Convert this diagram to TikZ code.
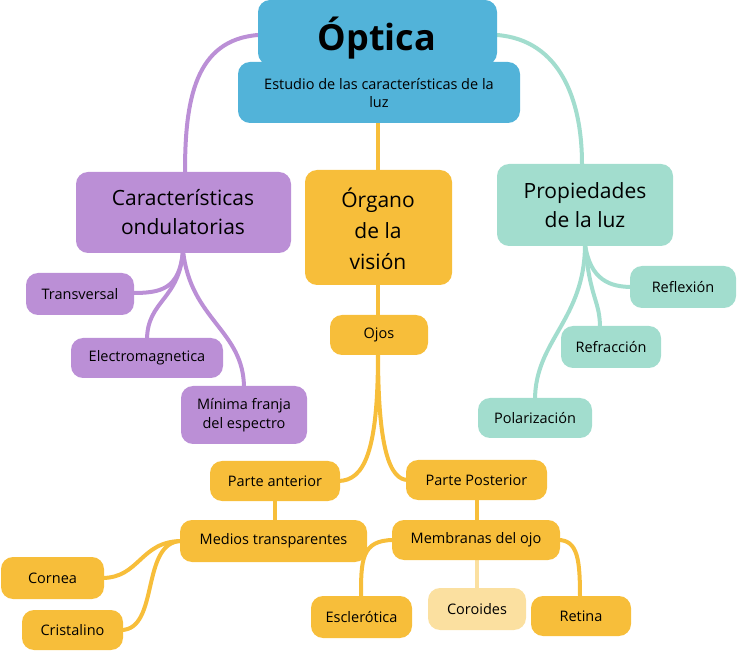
\documentclass[tikz,border=0pt]{standalone}
\usepackage{fontspec}
\setmainfont{Open Sans}
\definecolor{cblue}{HTML}{52B3D9}
\definecolor{cpur}{HTML}{BB8FD6}
\definecolor{cora}{HTML}{F7BE3A}
\definecolor{cmint}{HTML}{A2DDCE}
\definecolor{clight}{HTML}{FBE0A0}
\begin{document}
\begin{tikzpicture}[x=1pt,y=-1pt,
  box/.style={rounded corners=12pt,inner sep=0pt,align=center,text=black},
  lnk/.style={line width=4pt,line cap=round}]
\useasboundingbox (0,0) rectangle (737,652);
\newcommand\bx[7]{\node[box,fill=#2,minimum width=#5-#3,minimum height=#6-#4,font=#7] (#1) at ({(#3+#5)/2},{(#4+#6)/2}) {};}
% connectors first
\coordinate (a1) at (258,35); \coordinate (a2) at (497,35);
\draw[lnk,cpur] (a1) .. controls (195,40) and (185,100) .. (185,172);
\draw[lnk,cmint] (a2) .. controls (560,40) and (582,100) .. (582,164);
\draw[lnk,cora] (378,120) -- (378,172);
\draw[lnk,cpur] (183,250) .. controls (180,290) and (160,293) .. (132,293);
\draw[lnk,cpur] (183,250) .. controls (180,300) and (147,300) .. (147,340);
\draw[lnk,cpur] (183,250) .. controls (190,320) and (244,330) .. (244,388);
\draw[lnk,cora] (378,283) -- (378,317);
\draw[lnk,cmint] (585,244) .. controls (590,280) and (610,287) .. (632,287);
\draw[lnk,cmint] (585,244) .. controls (590,300) and (600,300) .. (600,328);
\draw[lnk,cmint] (585,244) .. controls (585,320) and (535,340) .. (535,400);
\draw[lnk,cora] (378,353) .. controls (378,450) and (365,481) .. (338,481);
\draw[lnk,cora] (378,353) .. controls (378,450) and (390,480) .. (408,480);
\draw[lnk,cora] (275,499) -- (275,522);
\draw[lnk,cora] (477,498) -- (477,522);
\draw[lnk,cora] (182,541) .. controls (140,541) and (140,578) .. (102,578);
\draw[lnk,cora] (182,541) .. controls (140,541) and (160,630) .. (121,630);
\draw[lnk,cora] (394,540) .. controls (361,540) and (361,560) .. (361,598);
\draw[lnk,clight] (477,558) -- (477,590);
\draw[lnk,cora] (558,540) .. controls (578,540) and (580,560) .. (580,598);
% nodes
\bx{sub}{cblue}{238}{62}{520}{123}{\fontsize{14}{17}\selectfont}
\node[align=center,font=\fontsize{14.5}{18}\selectfont] at (379,93) {Estudio de las características de la\\luz};
\bx{opt}{cblue}{258}{0}{497}{65}{}
\node[font=\fontsize{36}{40}\selectfont\bfseries] at (377,38) {Óptica};
\bx{car}{cpur}{76}{172}{291}{253}{}
\node[align=center,font=\fontsize{21}{29}\selectfont] at (183,212) {Características\\ondulatorias};
\bx{org}{cora}{305}{170}{452}{285}{}
\node[align=center,font=\fontsize{21}{31}\selectfont] at (378,229) {Órgano\\de la\\visión};
\bx{pro}{cmint}{497}{164}{673}{246}{}
\node[align=center,font=\fontsize{21}{29}\selectfont] at (585,205) {Propiedades\\de la luz};
\tikzset{sm/.style={font=\fontsize{14.5}{19}\selectfont,align=center}}
\bx{tra}{cpur}{26}{273}{134}{315}{} \node[sm] at (tra) {Transversal};
\bx{ele}{cpur}{71}{338}{223}{378}{} \node[sm] at (ele) {Electromagnetica};
\bx{min}{cpur}{181}{386}{307}{444}{} \node[sm] at (min) {Mínima franja\\del espectro};
\bx{ojo}{cora}{330}{315}{428}{355}{} \node[sm] at (ojo) {Ojos};
\bx{ref}{cmint}{630}{266}{736}{308}{} \node[sm] at (ref) {Reflexión};
\bx{rfr}{cmint}{561}{326}{661}{368}{} \node[sm] at (rfr) {Refracción};
\bx{pol}{cmint}{478}{398}{592}{438}{} \node[sm] at (pol) {Polarización};
\bx{pan}{cora}{210}{461}{340}{501}{} \node[sm] at (pan) {Parte anterior};
\bx{ppo}{cora}{406}{460}{547}{500}{} \node[sm] at (ppo) {Parte Posterior};
\bx{med}{cora}{180}{520}{367}{562}{} \node[sm] at (med) {Medios transparentes};
\bx{mem}{cora}{392}{520}{560}{560}{} \node[sm] at (mem) {Membranas del ojo};
\bx{cor}{cora}{1}{557}{104}{599}{} \node[sm] at (cor) {Cornea};
\bx{cri}{cora}{22}{610}{123}{650}{} \node[sm] at (cri) {Cristalino};
\bx{esc}{cora}{311}{596}{412}{638}{} \node[sm] at (esc) {Esclerótica};
\bx{crd}{clight}{428}{588}{526}{630}{} \node[sm] at (crd) {Coroides};
\bx{ret}{cora}{531}{596}{631}{636}{} \node[sm] at (ret) {Retina};
\end{tikzpicture}
\end{document}
